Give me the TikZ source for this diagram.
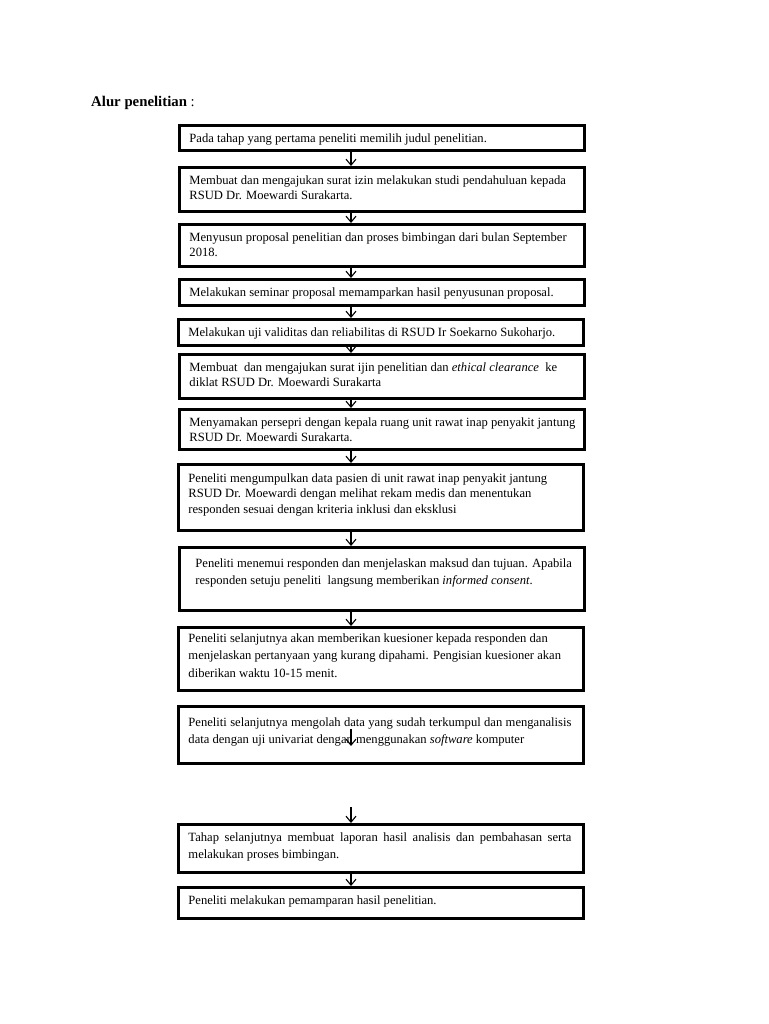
\documentclass[tikz,border=0pt]{standalone}
\usepackage{fontspec}
\setmainfont{Liberation Serif}
\usetikzlibrary{arrows.meta}

% isi kotak: [perataan]{tinggi}{teks}
\newcommand{\isi}[3][\raggedright]{\hspace*{10pt}\parbox[c][#2][t]{395pt}{#1\vspace*{5.5pt}\strut #3}}

\begin{document}
\begin{tikzpicture}[x=1pt,y=-1pt]
\tikzstyle{every node}=[font=\fontsize{12.6}{15.8}\selectfont]
\tikzstyle{kotak}=[draw,line width=2.9pt,anchor=north west,inner sep=0pt]
\tikzstyle{lebar}=[font=\fontsize{12.6}{17.6}\selectfont]
\tikzstyle{panah}=[->,>={Straight Barb[length=6pt,width=10pt]},line width=1.1pt]
\useasboundingbox (0,0) rectangle (768,1024);
\node[anchor=base west,inner sep=0pt,font=\fontsize{14.8}{17}\selectfont] (judul) at (91,107) {\textbf{Alur penelitian} :};
\node[kotak] (k1) at (178,124) {\isi{25pt}{Pada tahap yang pertama peneliti memilih judul penelitian.}};
\node[kotak] (k2) at (178,166) {\isi{44pt}{Membuat dan mengajukan surat izin melakukan studi pendahuluan kepada\\ RSUD Dr. Moewardi Surakarta.}};
\node[kotak] (k3) at (178,223) {\isi{42pt}{Menyusun proposal penelitian dan proses bimbingan dari bulan September\\ 2018.}};
\node[kotak] (k4) at (178,278) {\isi{26pt}{Melakukan seminar proposal memamparkan hasil penyusunan proposal.}};
\node[kotak] (k5) at (177,318) {\isi{26pt}{Melakukan uji validitas dan reliabilitas di RSUD Ir Soekarno Sukoharjo.}};
\node[kotak] (k6) at (178,353) {\isi{44pt}{Membuat \ dan mengajukan surat ijin penelitian dan \textit{ethical clearance} \ ke\\ diklat RSUD Dr. Moewardi Surakarta}};
\node[kotak] (k7) at (178,408) {\isi{40pt}{Menyamakan persepri dengan kepala ruang unit rawat inap penyakit jantung\\ RSUD Dr. Moewardi Surakarta.}};
\node[kotak] (k8) at (177,463) {\isi[\raggedright\vspace*{1pt}]{66pt}{Peneliti mengumpulkan data pasien di unit rawat inap penyakit jantung\\ RSUD Dr. Moewardi dengan melihat rekam medis dan menentukan\\ responden sesuai dengan kriteria inklusi dan eksklusi}};
\node[kotak,lebar] (k9) at (178,546) {\isi[\raggedright\leftskip=6pt\vspace*{2pt}]{63pt}{Peneliti menemui responden dan menjelaskan maksud dan tujuan. Apabila\\ responden setuju peneliti \ langsung memberikan \textit{informed consent}.}};
\node[kotak,lebar] (k10) at (177,626) {\isi[\raggedright\vspace*{-3pt}]{63pt}{Peneliti selanjutnya akan memberikan kuesioner kepada responden dan\\ menjelaskan pertanyaan yang kurang dipahami. Pengisian kuesioner akan\\ diberikan waktu 10-15 menit.}};
\node[kotak,lebar] (k11) at (177,705) {\isi[\rightskip=12pt\vspace*{2pt}]{57pt}{Peneliti selanjutnya mengolah data yang sudah terkumpul dan menganalisis\linebreak data dengan uji univariat dengan menggunakan \textit{software} komputer}};
\node[kotak,lebar] (k12) at (177,823) {\isi[\rightskip=12pt\vspace*{-1pt}]{48pt}{Tahap selanjutnya membuat laporan hasil analisis dan pembahasan serta\linebreak melakukan proses bimbingan.}};
\node[kotak] (k13) at (177,886) {\isi{31pt}{Peneliti melakukan pemamparan hasil penelitian.}};
% sumbu panah
\coordinate (sumbu) at (351,0);
\coordinate (a11) at (351,729);
\coordinate (b11) at (351,746);
\coordinate (a12) at (351,807);
\draw [panah] (k1.south -| sumbu) -- (k2.north -| sumbu);
\draw [panah] (k2.south -| sumbu) -- (k3.north -| sumbu);
\draw [panah] (k3.south -| sumbu) -- (k4.north -| sumbu);
\draw [panah] (k4.south -| sumbu) -- (k5.north -| sumbu);
\draw [panah] (k5.south -| sumbu) -- (k6.north -| sumbu);
\draw [panah] (k6.south -| sumbu) -- (k7.north -| sumbu);
\draw [panah] (k7.south -| sumbu) -- (k8.north -| sumbu);
\draw [panah] (k8.south -| sumbu) -- (k9.north -| sumbu);
\draw [panah] (k9.south -| sumbu) -- (k10.north -| sumbu);
\draw [panah] (a11) -- (b11);
\draw [panah] (a12) -- (k12.north -| sumbu);
\draw [panah] (k12.south -| sumbu) -- (k13.north -| sumbu);
\end{tikzpicture}
\end{document}
